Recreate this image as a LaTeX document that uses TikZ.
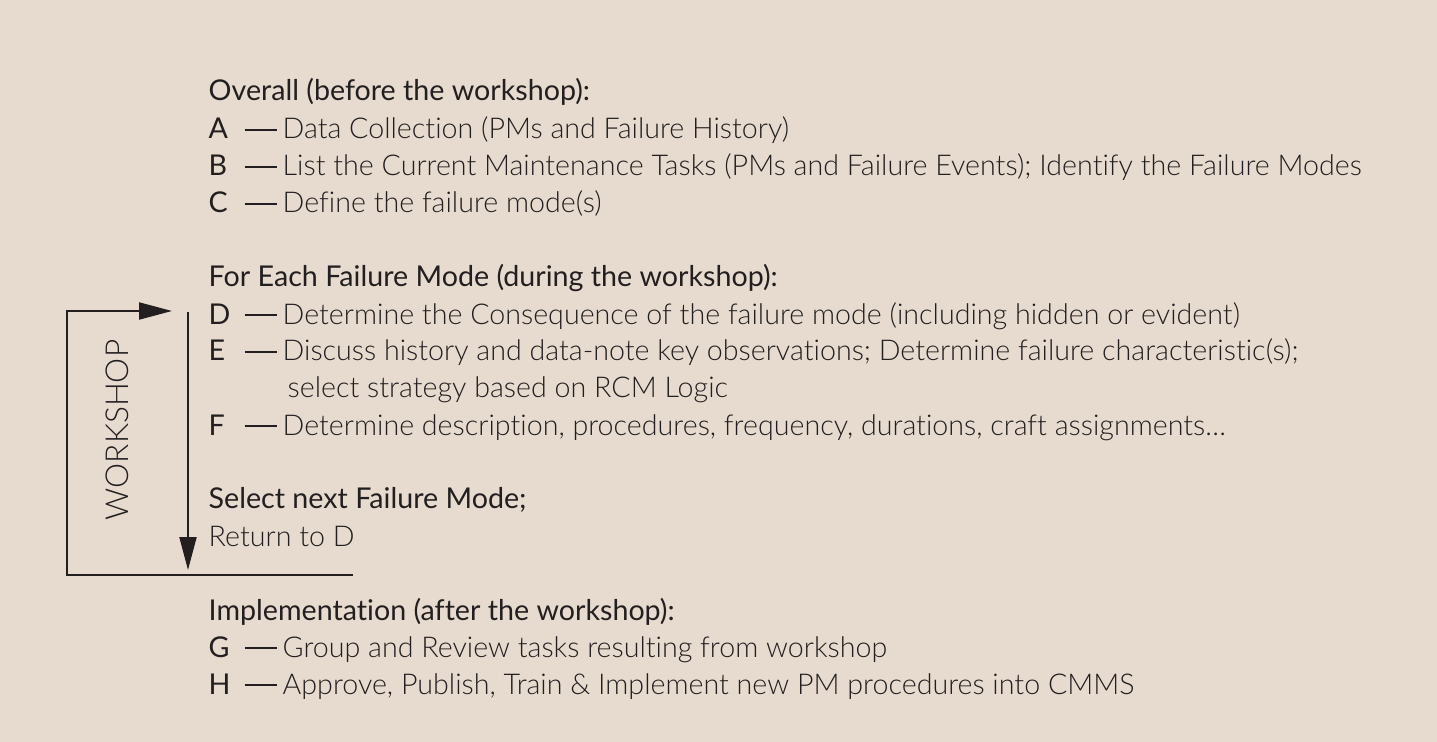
\documentclass[tikz,border=0pt]{standalone}
\usepackage{fontspec}
\setmainfont{Lato Light}[Ligatures={NoCommon}]
\newfontfamily\headfont{Lato}[Ligatures={NoCommon}]
\usetikzlibrary{arrows.meta}
\definecolor{paper}{HTML}{E6DBCE}
\definecolor{ink}{HTML}{231F20}
\newcommand{\longdash}{\rule[2.3pt]{0.32cm}{0.45pt}\hspace{0.06cm}}
\tikzstyle{line}=[anchor=base west, inner sep=0pt, text=ink, font=\fontsize{8.15}{10}\selectfont]
\tikzstyle{head}=[line, font=\fontsize{8.15}{10}\selectfont\headfont]
\tikzstyle{key}=[head]
\tikzstyle{loop}=[draw=ink, line width=0.57pt, -{Triangle[length=0.33cm, width=0.17cm]}]

\begin{document}
\begin{tikzpicture}
        \fill[paper] (0,0) rectangle (14.37,-7.42);
        \useasboundingbox (0,0) rectangle (14.37,-7.42);
        % before the workshop
        \node[head] (overall) at (2.08,-1.01) {Overall (before the workshop):};
        \node[key] (A) at (2.08,-1.39) {A};
        \node[line] (Atext) at (2.44,-1.39) {\longdash Data Collection (PMs and Failure History)};
        \node[key] (B) at (2.08,-1.76) {B};
        \node[line] (Btext) at (2.44,-1.76) {\longdash List the Current Maintenance Tasks (PMs and Failure Events); Identify the Failure Modes};
        \node[key] (C) at (2.08,-2.13) {C};
        \node[line] (Ctext) at (2.44,-2.13) {\longdash Define the failure mode(s)};
        % during the workshop
        \node[head] (each) at (2.08,-2.87) {For Each Failure Mode (during the workshop):};
        \node[key] (D) at (2.08,-3.24) {D};
        \node[line] (Dtext) at (2.44,-3.24) {\longdash Determine the Consequence of the failure mode (including hidden or evident)};
        \node[key] (E) at (2.08,-3.61) {E};
        \node[line] (Etext) at (2.44,-3.61) {\longdash Discuss history and data-note key observations; Determine failure characteristic(s);};
        \node[line] (Emore) at (2.87,-3.98) {select strategy based on RCM Logic};
        \node[key] (F) at (2.08,-4.35) {F};
        \node[line] (Ftext) at (2.44,-4.35) {\longdash Determine description, procedures, frequency, durations, craft assignments…};
        \node[head] (next) at (2.08,-5.08) {Select next Failure Mode;};
        \node[line] (back) at (2.08,-5.46) {Return to D};
        % after the workshop
        \node[head] (impl) at (2.08,-6.20) {Implementation (after the workshop):};
        \node[key] (G) at (2.08,-6.57) {G};
        \node[line] (Gtext) at (2.44,-6.57) {\longdash Group and Review tasks resulting from workshop};
        \node[key] (H) at (2.08,-6.94) {H};
        \node[line] (Htext) at (2.44,-6.94) {\longdash Approve, Publish, Train \& Implement new PM procedures into CMMS};
        % workshop loop
        \coordinate (loopBR) at (3.53,-5.75);
        \coordinate (loopBL) at (0.67,-5.75);
        \coordinate (loopTL) at (0.67,-3.11);
        \coordinate (inTip) at (1.72,-3.11);
        \coordinate (downTop) at (1.88,-3.12);
        \coordinate (downTip) at (1.88,-5.70);
        \draw[loop] (loopBR) -- (loopBL) -- (loopTL) -- (inTip);
        \draw[loop] (downTop) -- (downTip);
        \node[rotate=90, inner sep=0pt, text=ink, font=\fontsize{9}{11}\selectfont] (workshop) at (1.17,-4.30) {WORKSHOP};
    \end{tikzpicture}
\end{document}
